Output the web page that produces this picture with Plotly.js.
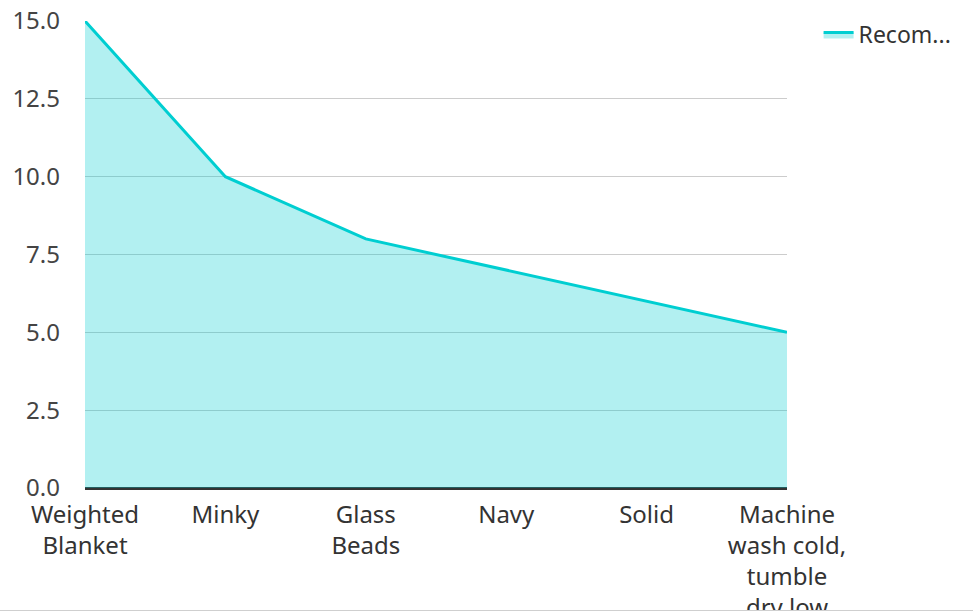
<!DOCTYPE html>
<html>
<head>
<meta charset="utf-8">
<script src="https://cdn.plot.ly/plotly-3.0.1.min.js"></script>
<style>
html,body{margin:0;padding:0;background:#fff;overflow:hidden;}
#chart{width:973px;height:610px;border-bottom:1px solid #cfcfcf;overflow:hidden;}
</style>
</head>
<body>
<div id="chart"></div>
<script>
const categories = ["Weighted<br>Blanket", "Minky", "Glass<br>Beads", "Navy", "Solid", "Machine<br>wash cold,<br>tumble<br>dry low"];
const values = [15, 10, 8, 7, 6, 5];
const seriesName = "Recom...";
const yTicks = [0, 2.5, 5, 7.5, 10, 12.5, 15];

const trace = {
  x: categories,
  y: values,
  type: "scatter",
  mode: "lines",
  name: seriesName,
  fill: "tozeroy",
  fillcolor: "rgba(0,206,209,0.3)",
  line: {color: "#00CED1", width: 3},
  hoverinfo: "x+y"
};

const layout = {
  width: 973,
  height: 610,
  margin: {l: 85, r: 186, t: 21, b: 122, pad: 0},
  paper_bgcolor: "#fff",
  plot_bgcolor: "#fff",
  font: {family: "Noto Sans, Open Sans, sans-serif", size: 24, color: "#333"},
  showlegend: true,
  legend: {x: 1.045, y: 1.017, xanchor: "left", yanchor: "top", itemwidth: 30, font: {size: 23, color: "#333"}, bgcolor: "rgba(0,0,0,0)"},
  xaxis: {
    type: "category",
    range: [0, 5],
    showgrid: false,
    showline: true,
    linecolor: "#333",
    linewidth: 2,
    ticks: "",
    automargin: false,
    tickangle: 0,
    ticklabelstandoff: 4,
    tickfont: {size: 24, color: "#333"}
  },
  yaxis: {
    range: [0, 15],
    tickvals: yTicks,
    tickformat: ".1f",
    showgrid: true,
    gridcolor: "rgba(0,0,0,0.2)",
    gridwidth: 1,
    zeroline: true,
    zerolinecolor: "#333",
    zerolinewidth: 2,
    showline: false,
    ticks: "",
    automargin: false,
    ticklabelstandoff: 24,
    tickfont: {size: 24, color: "#444"}
  }
};

Plotly.newPlot("chart", [trace], layout, {displayModeBar: false, responsive: false});
</script>
</body>
</html>
